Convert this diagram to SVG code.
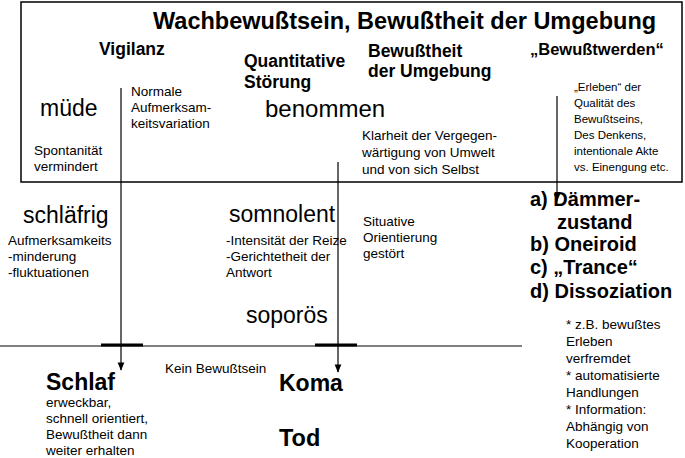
<svg xmlns="http://www.w3.org/2000/svg" width="685" height="458" viewBox="0 0 685 458">
<style>
text{font-family:"Liberation Sans",Arial,sans-serif;fill:#000}
.b{font-weight:bold}
.s{font-size:13.5px}
.e{font-size:11.5px}
.h{font-size:17.5px;font-weight:bold}
.l{font-size:23px}
.r{font-size:20px;font-weight:bold}
.ln{stroke:#000;stroke-width:1.2;fill:none}
</style>
<defs><marker id="a" viewBox="0 0 10 10" refX="9" refY="5" markerWidth="7" markerHeight="7" orient="auto"><path d="M0,1L10,5L0,9z" fill="#000"/></marker></defs>
<rect x="21" y="2" width="661" height="180" fill="none" stroke="#000" stroke-width="1.5"/>
<g id="connectors">
<line class="ln" x1="121" y1="88" x2="121" y2="370" marker-end="url(#a)"/>
<line class="ln" x1="338" y1="162" x2="338" y2="372" marker-end="url(#a)"/>
<line class="ln" x1="557" y1="96" x2="557" y2="201" marker-end="url(#a)"/>
<line class="ln" x1="0" y1="346" x2="522" y2="346"/>
<line x1="101" y1="345" x2="143" y2="345" stroke="#000" stroke-width="3"/>
<line x1="315" y1="345" x2="357" y2="345" stroke="#000" stroke-width="3"/>
</g>
<g id="title"><text x="153" y="29" class="b" font-size="23.5">Wachbewußtsein, Bewußtheit der Umgebung</text></g>
<g id="vigilanz"><text x="99" y="55" class="h">Vigilanz</text></g>
<g id="quant"><text x="244" y="67" class="h">Quantitative</text><text x="244" y="88" class="h">Störung</text></g>
<g id="bewu"><text x="368" y="57" class="h">Bewußtheit</text><text x="368" y="77" class="h">der Umgebung</text></g>
<g id="bewwerd"><text x="530" y="55" class="b" font-size="16.5">„Bewußtwerden“</text></g>
<g id="muede"><text x="40" y="116" class="l">müde</text><text x="34" y="155" class="s">Spontanität</text><text x="34" y="171" class="s">vermindert</text></g>
<g id="normal"><text x="131" y="96" class="s">Normale</text><text x="131" y="112" class="s">Aufmerksam-</text><text x="131" y="128" class="s">keitsvariation</text></g>
<g id="benommen"><text x="265" y="117" style="font-size:24px">benommen</text></g>
<g id="klar"><text x="362" y="140" class="s">Klarheit der Vergegen-</text><text x="362" y="157" class="s">wärtigung von Umwelt</text><text x="362" y="174" class="s">und von sich Selbst</text></g>
<g id="erleben"><text x="574" y="91" class="e">„Erleben“ der</text><text x="574" y="107" class="e">Qualität des</text><text x="574" y="123" class="e">Bewußtseins,</text><text x="574" y="139" class="e">Des Denkens,</text><text x="574" y="155" class="e">intentionale Akte</text><text x="574" y="171" class="e">vs. Einengung etc.</text></g>
<g id="schlaefrig"><text x="23" y="223" class="l">schläfrig</text><text x="8" y="245" class="s">Aufmerksamkeits</text><text x="8" y="261" class="s">-minderung</text><text x="8" y="277" class="s">-fluktuationen</text></g>
<g id="somnolent"><text x="229" y="222" class="l">somnolent</text><text x="226" y="245" class="s">-Intensität der Reize</text><text x="226" y="261" class="s">-Gerichtetheit der</text><text x="226" y="277" class="s">Antwort</text></g>
<g id="situativ"><text x="363" y="226" class="s">Situative</text><text x="363" y="242" class="s">Orientierung</text><text x="363" y="258" class="s">gestört</text></g>
<g id="soporoes"><text x="246" y="323" class="l">soporös</text></g>
<g id="list"><text x="530" y="206" class="r">a) Dämmer-</text><text x="557" y="229" class="r">zustand</text><text x="530" y="251" class="r">b) Oneiroid</text><text x="530" y="274" class="r">c) „Trance“</text><text x="530" y="298" class="r">d) Dissoziation</text></g>
<g id="dissnote"><text x="566" y="329" class="s">* z.B. bewußtes</text><text x="566" y="346" class="s">Erleben</text><text x="566" y="363" class="s">verfremdet</text><text x="566" y="380" class="s">* automatisierte</text><text x="566" y="397" class="s">Handlungen</text><text x="566" y="414" class="s">* Information:</text><text x="566" y="431" class="s">Abhängig von</text><text x="566" y="448" class="s">Kooperation</text></g>
<g id="schlaf"><text x="46" y="390" class="b" font-size="23">Schlaf</text><text x="46" y="407" class="s">erweckbar,</text><text x="46" y="423" class="s">schnell orientiert,</text><text x="46" y="439" class="s">Bewußtheit dann</text><text x="46" y="455" class="s">weiter  erhalten</text></g>
<g id="kein"><text x="165" y="373" class="s">Kein Bewußtsein</text></g>
<g id="koma"><text x="279" y="391" class="b" font-size="23">Koma</text></g>
<g id="tod"><text x="279" y="446" class="b" font-size="23.5">Tod</text></g>
</svg>
